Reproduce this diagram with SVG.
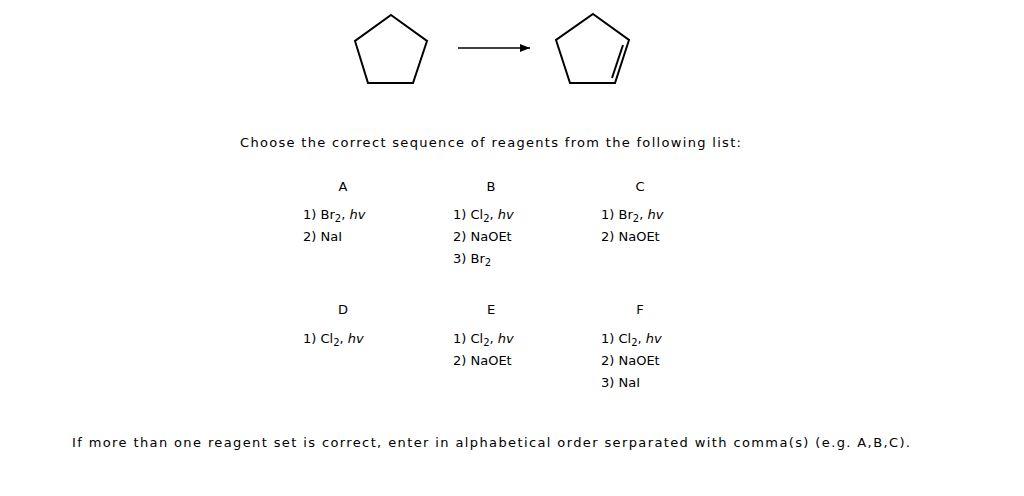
<svg xmlns="http://www.w3.org/2000/svg" width="1024" height="496" viewBox="0 0 1024 496">
<style>
text{font-family:"DejaVu Sans",Verdana,sans-serif;font-size:13px;fill:#000}
.h{text-anchor:middle}
.b{fill:none;stroke:#000;stroke-width:2;stroke-linejoin:miter}
</style>
<defs><marker id="ah" markerWidth="10" markerHeight="8" refX="10" refY="4" orient="auto" markerUnits="userSpaceOnUse"><path d="M0,0 L10,4 L0,8 Z"/></marker></defs>
<rect width="1024" height="496" fill="#fff"/>
<g id="cyclopentane"><polygon class="b" points="391,15 427,41 413,83 368,83 355,41"/></g>
<g id="cyclopentene"><polygon class="b" points="593,14 629,40 615,83 570,83 556,40"/><line class="b" x1="623" y1="45" x2="612" y2="78" stroke-width="1.5"/></g>
<g id="connectors"><line x1="458" y1="48" x2="530" y2="48" stroke="#000" stroke-width="1.5" marker-end="url(#ah)"/></g>
<text x="240" y="147" textLength="501">Choose the correct sequence of reagents from the following list:</text>
<g id="A"><text class="h" x="343" y="191">A</text><text x="303" y="219">1) Br<tspan font-size="10" dy="3">2</tspan><tspan dy="-3">, </tspan><tspan font-style="italic">hv</tspan></text><text x="303" y="241">2) NaI</text></g>
<g id="B"><text class="h" x="491" y="191">B</text><text x="453" y="219">1) Cl<tspan font-size="10" dy="3">2</tspan><tspan dy="-3">, </tspan><tspan font-style="italic">hv</tspan></text><text x="453" y="241">2) NaOEt</text><text x="453" y="263">3) Br<tspan font-size="10" dy="3">2</tspan></text></g>
<g id="C"><text class="h" x="640" y="191">C</text><text x="601" y="219">1) Br<tspan font-size="10" dy="3">2</tspan><tspan dy="-3">, </tspan><tspan font-style="italic">hv</tspan></text><text x="601" y="241">2) NaOEt</text></g>
<g id="D"><text class="h" x="343" y="314">D</text><text x="303" y="343">1) Cl<tspan font-size="10" dy="3">2</tspan><tspan dy="-3">, </tspan><tspan font-style="italic">hv</tspan></text></g>
<g id="E"><text class="h" x="491" y="314">E</text><text x="453" y="343">1) Cl<tspan font-size="10" dy="3">2</tspan><tspan dy="-3">, </tspan><tspan font-style="italic">hv</tspan></text><text x="453" y="365">2) NaOEt</text></g>
<g id="F"><text class="h" x="640" y="314">F</text><text x="601" y="343">1) Cl<tspan font-size="10" dy="3">2</tspan><tspan dy="-3">, </tspan><tspan font-style="italic">hv</tspan></text><text x="601" y="365">2) NaOEt</text><text x="601" y="387">3) NaI</text></g>
<text x="72" y="447" textLength="838">If more than one reagent set is correct, enter in alphabetical order serparated with comma(s) (e.g. A,B,C).</text>
</svg>
